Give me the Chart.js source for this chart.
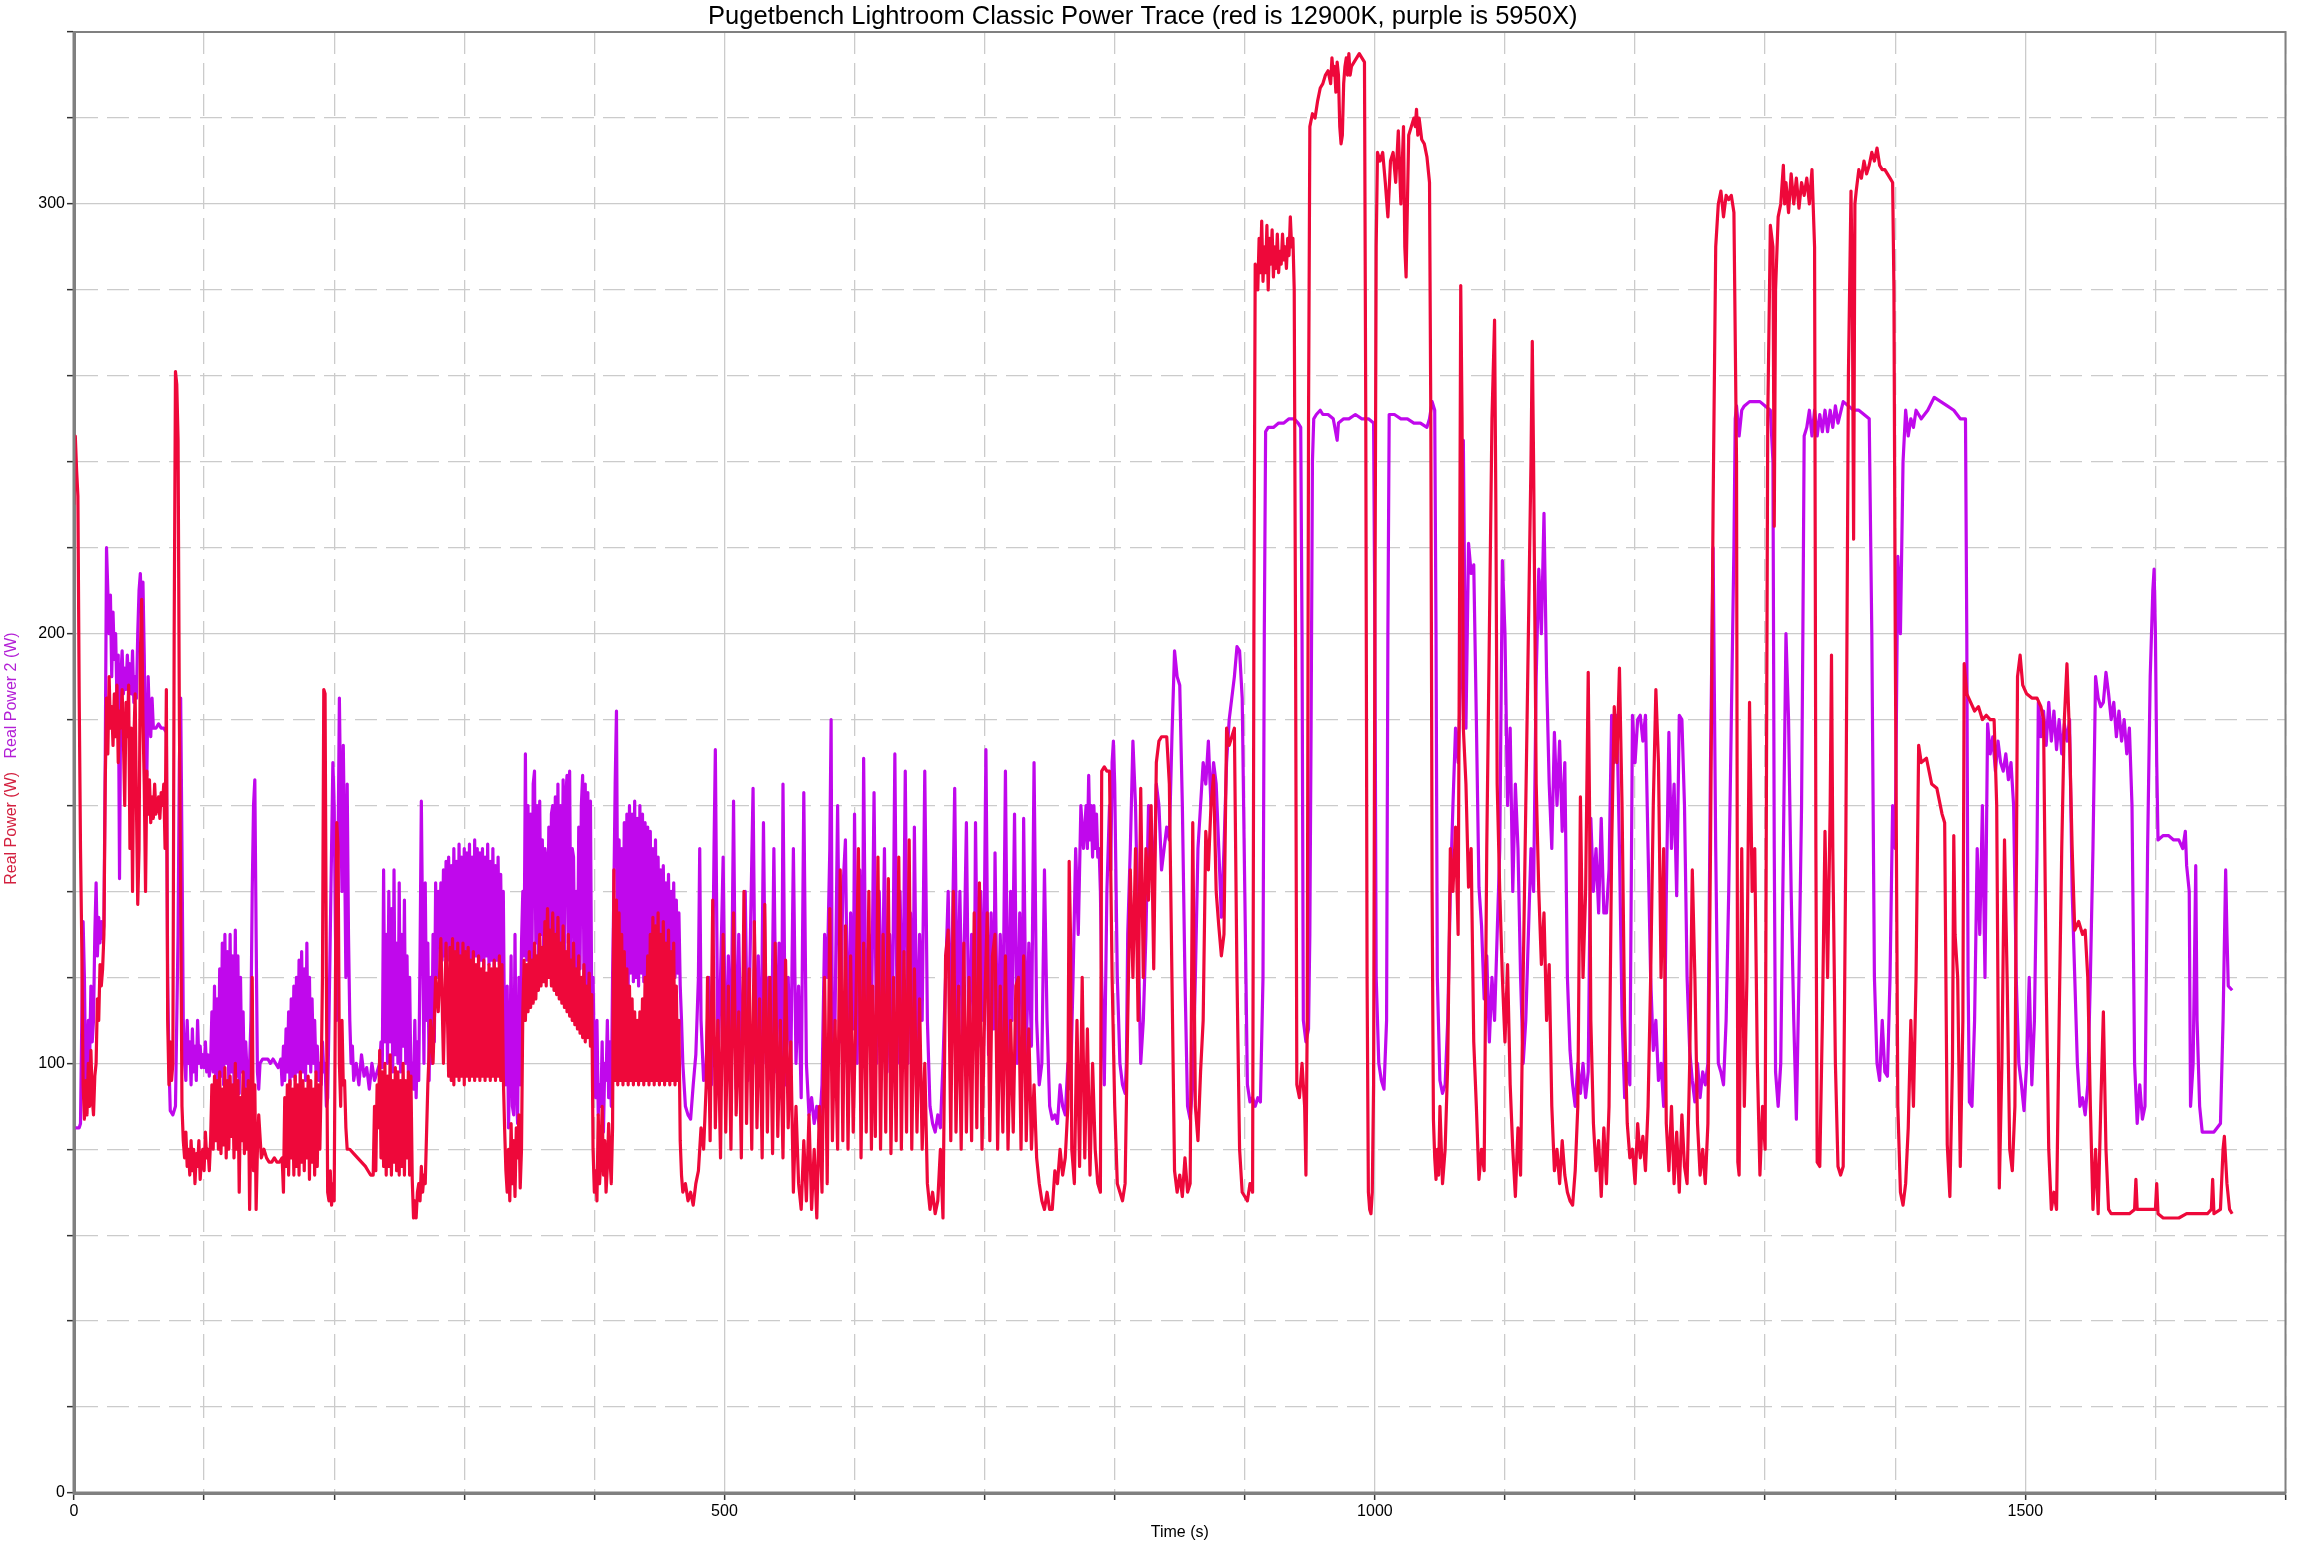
<!DOCTYPE html>
<html>
<head>
<meta charset="utf-8">
<title>Pugetbench Lightroom Classic Power Trace</title>
<script src="https://cdn.jsdelivr.net/npm/chart.js@4.4.1/dist/chart.umd.min.js"></script>
<style>
    html, body { margin: 0; padding: 0; background: #fff; overflow: hidden; }
    #wrap { position: relative; width: 2309px; height: 1542px; }
</style>
</head>
<body>
<div id="wrap"><canvas id="power-chart"></canvas></div>
<script>
const chartTitle = 'Pugetbench Lightroom Classic Power Trace (red is 12900K, purple is 5950X)';
const xAxisTitle = 'Time (s)';
const redLabel = 'Real Power (W)';
const purpleLabel = 'Real Power 2 (W)';

const xMajorTicks = [0, 500, 1000, 1500];
const yMajorTicks = [0, 100, 200, 300];

// [time (s), watts] - 12900K
const redTrace = [
    [0,230],[1,246],[2,238],[3,232],[4,185],[5,150],[6,127],[7,95],[8,87],[9,96],[10,88],[11,100],[12,90],[13,103],[14,92],[15,88],[16,97],[17,100],[18,115],[19,110],[20,123],[21,118],[22,122],[23,130],[24,165],[25,185],[26,172],[27,190],[28,178],[29,183],[30,174],[31,186],[32,176],[33,188],[34,170],[35,182],[36,178],[37,187],[38,175],[39,160],[40,184],[41,176],[42,188],[43,150],[44,178],[45,140],[46,175],[47,186],[48,160],[49,137],[50,150],[51,195],[52,208],[53,180],[54,165],[55,140],[56,168],[57,158],[58,166],[59,156],[60,162],[61,157],[62,165],[63,158],[64,160],[65,162],[66,157],[67,163],[68,160],[69,165],[70,150],[71,187],[72,110],[73,95],[74,105],[75,96],[76,100],[77,200],[78,261],[79,258],[80,245],[81,180],[82,140],[83,90],[84,82],[85,78],[86,84],[87,76],[88,80],[89,74],[90,82],[91,75],[92,80],[93,72],[94,79],[95,76],[96,82],[97,73],[98,78],[99,80],[100,75],
    [101,84],[102,78],[103,80],[104,75],[105,82],[106,95],[107,80],[108,97],[109,82],[110,96],[111,80],[112,98],[113,79],[114,94],[115,81],[116,99],[117,78],[118,96],[119,80],[120,97],[121,83],[122,95],[123,78],[124,100],[125,80],[126,96],[127,70],[128,92],[129,82],[130,98],[131,79],[132,94],[133,80],[134,96],[135,66],[136,85],[137,120],[138,75],[139,95],[140,66],[141,80],[142,88],[144,78],[146,80],[148,78],[150,77],[152,77],[154,78],[156,77],[158,77],[160,78],[161,70],[162,92],[163,76],[164,95],[165,74],[166,96],[167,78],[168,94],[169,74],[170,97],[171,76],[172,95],[173,74],[174,98],[175,77],[176,96],[177,75],[178,94],[179,78],[180,97],[181,73],[182,96],[183,77],[184,94],[185,74],[186,98],[187,76],[188,95],[189,80],[190,96],[191,120],[192,187],[193,186],[194,120],[195,70],[196,68],[197,75],[198,67],[199,72],[200,68],[201,120],[202,156],[203,150],[204,100],[205,90],[206,110],[207,95],[208,96],[209,85],[210,80],[212,80],[215,79],[218,78],[221,77],[224,76],[226,75],[228,74],[230,74],[231,90],[232,75],[233,95],[234,85],[235,103],[236,78],[237,98],[238,76],[239,100],[240,74],[241,97],[242,76],[243,102],[244,74],[245,96],[246,77],[247,99],[248,75],[249,98],[250,74],[251,96],[252,76],[253,100],[254,74],[255,96],[256,78],[257,98],[258,74],[259,97],[260,73],[261,64],[262,68],[263,64],[264,70],[265,72],[266,68],[267,76],[268,70],[269,74],[270,72],[272,95],[274,110],[276,100],[278,120],[280,112],[282,129],[284,100],[286,128],
    [288,97],[289,127],[290,96],[291,129],[292,95],[293,126],[294,97],[295,128],[296,96],[297,125],[298,97],[299,128],[300,95],[301,126],[302,97],[303,127],[304,96],[305,124],[306,97],[307,126],[308,96],[309,123],[310,97],[311,125],[312,96],[313,122],[314,97],[315,124],[316,96],[317,121],[318,97],[319,123],[320,96],[321,122],[322,97],[323,124],[324,96],[325,122],[326,97],[327,125],[328,96],[329,123],[330,97],[331,85],[332,75],[333,70],[334,80],[335,68],[336,86],[337,72],[338,82],[339,69],[340,85],[341,78],[342,88],[343,71],[344,80],
    [345,112],[346,124],[347,110],[348,123],[349,112],[350,126],[351,113],[352,124],[353,114],[354,128],[355,115],[356,125],[357,117],[358,130],[359,118],[360,127],[361,119],[362,133],[363,118],[364,136],[365,120],[366,131],[367,118],[368,135],[369,117],[370,130],[371,116],[372,134],[373,115],[374,128],[375,114],[376,132],[377,113],[378,126],[379,112],[380,130],[381,111],[382,124],[383,110],[384,128],[385,109],[386,122],[387,108],[388,125],[389,107],[390,120],[391,106],[392,123],[393,105],[394,118],[395,106],[396,121],[397,104],[398,116],[399,80],[400,70],[401,75],[402,68],[403,88],[404,72],[405,78],[406,90],[407,74],[408,82],[409,70],[410,76],[411,86],[412,78],[413,72],[414,85],[415,145],
    [416,96],[417,138],[418,95],[419,135],[420,96],[421,130],[422,95],[423,126],[424,96],[425,122],[426,95],[427,118],[428,96],[429,115],[430,95],[431,112],[432,96],[433,110],[434,95],[435,112],[436,96],[437,115],[438,95],[439,120],[440,96],[441,125],[442,95],[443,130],[444,96],[445,134],[446,95],[447,132],[448,96],[449,135],[450,95],[451,130],[452,96],[453,133],[454,95],[455,128],[456,96],[457,131],[458,95],[459,126],[460,96],[461,128],[462,95],[463,118],[464,96],[465,110],[466,82],[467,74],[468,70],[470,72],[472,68],[474,70],[476,67],[478,72],[480,75],[482,85],[484,80],[486,95],
    [487,120],[489,82],[491,138],[493,85],[495,110],[497,78],[499,130],[501,84],[503,118],[505,80],[507,135],[509,88],[511,112],[513,78],[515,140],[517,86],[519,122],[521,80],[523,133],[525,85],[527,115],[529,78],[531,137],[533,84],[535,120],[537,79],[539,128],[541,83],[543,110],[545,78],[547,124],[549,85],[551,105],[553,70],[555,90],[557,72],[559,66],[561,82],[563,68],[565,88],[567,66],[569,80],[571,64],[573,90],
    [575,70],[577,120],[579,72],[581,136],[583,82],[585,110],[587,80],[589,145],[591,82],[593,132],[595,80],[597,125],[599,84],[601,112],[603,150],[605,78],[607,128],[609,84],[611,140],[613,80],[614,118],[616,83],[618,148],[620,80],[622,130],[624,84],[626,143],[628,79],[630,120],[632,82],[634,148],[636,80],[638,126],[640,84],[642,152],[644,80],[646,122],[648,84],[650,115],[652,80],[654,100],[656,72],[658,66],[660,70],[662,65],[664,68],[666,80],[668,64],
    [670,125],[672,131],[674,82],[676,140],[678,84],[680,118],[682,80],[684,128],[686,84],[688,120],[690,82],[692,135],[694,85],[696,142],[698,80],[700,112],[702,135],[704,82],[706,125],[708,130],[710,80],[712,118],[714,84],[716,125],[718,80],[720,110],[722,84],[724,118],[726,120],[728,80],[730,125],[732,82],[734,108],[736,80],[738,95],[740,78],[742,72],[744,68],[746,66],[748,70],[750,66],[752,66],[754,75],[756,72],[758,80],[760,74],[762,78],[764,90],[765,147],[766,130],[767,80],[769,72],[771,110],[773,76],[775,120],[777,78],[779,108],[781,74],[783,100],[785,80],[787,72],[789,70],[790,168],[792,169],[794,168],[796,168],[798,120],[800,90],[802,72],[804,70],[806,68],[808,72],[810,110],[812,145],[814,120],[816,150],[818,110],[820,164],[822,120],[824,150],[826,138],[828,160],[830,122],[832,170],[834,175],[836,176],[838,176],[840,176],[842,165],[844,120],[846,75],[848,70],[850,74],[852,69],[854,78],[856,70],[858,72],[860,156],[862,90],[864,82],[866,98],[868,110],[870,154],[872,145],[874,160],[876,167],[878,140],[880,132],[882,125],[884,130],[886,178],[888,174],[890,176],[892,178],[894,120],[896,80],[898,70],[900,69],[902,68],[904,72],[906,70],[907,200],[908,286],
    [910,280],[911,292],[912,284],[913,296],[914,282],[915,290],[916,284],[917,295],[918,280],[919,292],[920,286],[921,294],[922,283],[923,290],[924,285],[925,293],[926,284],[927,289],[928,286],[929,293],[930,287],[931,290],[932,285],[933,292],[934,288],[935,297],[936,290],[937,292],[938,280],[939,200],[940,95],[942,92],[944,100],[946,90],[947,74],[948,110],[949,250],[950,318],[952,321],[954,320],[956,324],[958,327],[960,328],[962,330],[964,331],[966,328],[967,334],[968,330],[969,332],[970,326],[971,333],[972,330],[973,318],[974,314],[975,316],[976,328],[977,332],[978,334],[979,330],[980,335],[981,330],[982,332],[984,333],[986,334],[988,335],[990,334],[992,333],[993,250],[994,120],[995,70],[996,66],[997,65],[998,70],[999,95],[1000,200],[1001,290],[1002,312],[1004,310],[1006,312],[1008,305],[1010,297],[1012,310],[1014,312],[1016,305],[1018,317],[1020,300],[1022,318],[1023,290],[1024,283],[1025,300],[1026,316],[1028,318],[1030,320],[1031,318],[1032,322],[1033,316],[1034,320],[1036,315],[1038,314],[1040,311],[1042,305],[1043,250],[1044,140],[1045,87],[1046,78],[1047,73],[1048,80],[1049,74],[1050,90],
    [1052,72],[1054,80],[1056,100],[1058,150],[1060,140],[1062,155],[1064,130],[1065,200],[1066,281],[1067,250],[1068,178],[1070,165],[1072,141],[1074,150],[1076,105],[1078,90],[1080,73],[1082,80],[1084,75],[1086,150],[1088,200],[1090,250],[1092,273],[1093,230],[1094,165],[1096,140],[1098,120],[1100,105],[1102,123],[1104,95],[1106,80],[1108,69],[1110,85],[1112,74],[1114,120],[1116,160],[1118,200],[1120,240],[1121,268],[1122,240],[1124,165],[1126,140],[1128,123],[1130,135],[1132,110],[1134,123],
    [1136,90],[1138,75],[1140,80],[1142,72],[1144,82],[1146,74],[1148,70],[1150,68],[1152,67],[1154,75],[1156,90],[1158,162],[1160,120],[1162,140],[1164,191],[1165,160],[1166,110],[1168,86],[1170,75],[1172,82],[1174,69],[1176,85],[1178,72],[1180,90],[1182,150],[1184,183],[1186,170],[1188,192],[1190,160],[1192,110],[1194,86],[1196,78],[1198,80],[1200,72],[1202,86],[1204,78],[1206,83],[1208,75],[1210,90],[1212,120],[1214,160],[1216,187],[1218,170],[1220,120],[1222,150],[1224,86],[1226,75],[1228,90],[1230,72],[1232,84],[1234,70],[1236,88],[1238,76],[1240,72],[1242,100],[1244,145],[1246,120],[1248,86],[1250,74],[1252,80],[1254,72],[1256,86],[1258,150],[1260,230],[1262,290],[1264,300],[1266,303],[1268,297],[1270,302],[1272,301],[1274,302],[1276,298],[1278,240],[1279,77],[1280,74],[1282,150],[1284,90],[1286,120],[1288,184],[1290,140],[1292,150],[1294,100],[1296,74],[1298,90],[1300,80],[1302,250],[1304,295],[1306,290],[1307,225],[1308,280],[1310,297],[1312,300],[1314,309],[1315,300],[1316,305],[1318,298],[1320,307],[1322,300],[1324,306],[1326,299],[1328,305],[1330,302],[1332,306],[1334,300],[1336,308],[1338,290],[1339,150],[1340,77],[1342,76],[1344,110],[1346,154],[1348,120],[1350,160],[1351,195],[1352,150],[1354,100],[1356,76],[1358,74],[1360,76],[1362,150],[1364,260],[1366,303],[1367,280],[1368,222],[1369,300],[1370,303],[1372,308],[1374,306],[1376,310],[1378,307],[1380,309],[1382,312],[1384,310],[1386,313],[1388,309],[1390,308],[1392,308],[1394,307],[1396,306],[1398,305],[1399,280],[1400,200],[1402,90],[1404,70],[1406,67],[1408,72],[1410,85],[1412,110],[1414,90],[1416,120],[1418,174],[1420,170],[1424,171],[1428,165],[1432,164],[1436,158],[1438,156],[1440,81],[1442,69],[1444,100],[1445,153],[1446,130],[1448,120],[1450,76],[1452,110],[1453,193],[1455,186],[1458,184],[1461,182],[1464,183],[1467,180],[1470,181],[1473,180],[1476,180],[1478,160],[1480,71],[1482,100],[1484,152],[1486,120],[1488,80],[1490,75],[1492,90],[1494,190],[1496,195],[1498,188],[1501,186],[1505,185],[1509,185],[1512,183],[1514,180],[1516,120],[1518,80],[1520,66],[1522,70],[1524,66],[1526,110],[1528,150],[1530,180],[1532,193],[1534,176],[1536,150],[1538,131],[1541,133],[1544,130],[1546,131],[1548,120],[1550,90],[1552,66],[1554,80],[1556,65],[1558,90],[1560,112],[1562,80],[1564,66],[1566,65],[1570,65],[1575,65],[1580,65],[1584,66],[1585,73],[1586,66],[1590,66],[1595,66],[1600,66],[1601,72],[1602,65],[1606,64],[1612,64],[1618,64],[1624,65],[1630,65],[1636,65],[1640,65],[1643,66],[1644,73],[1645,65],[1650,66],[1652,80],[1653,83],[1655,72],[1657,66],[1659,65]
];

// [time (s), watts] - 5950X
const purpleTrace = [
    [0,85],[2,85],[4,85],[5,86],[6,110],[7,133],[8,120],[9,95],[10,100],[11,110],[12,100],[13,118],[14,105],[15,110],[16,130],[17,142],[18,125],[19,134],[20,128],[21,133],[22,129],[23,132],[24,170],[25,220],[26,210],[27,200],[28,209],[29,190],[30,205],[31,194],[32,200],[33,185],[34,195],[35,143],[36,190],[37,196],[38,186],[39,192],[40,187],[41,195],[42,188],[43,193],[44,186],[45,196],[46,184],[47,190],[48,185],[49,200],[50,210],[51,214],[52,205],[53,212],[54,195],[55,170],[56,167],[57,190],[58,180],[59,176],[60,185],[61,178],[63,178],[65,179],[67,178],[69,178],[71,177],[72,120],[73,100],[74,89],[76,88],[78,90],[80,130],[81,170],[82,185],[83,150],[84,110],[85,100],[86,96],[87,110],[88,100],[89,105],[90,95],[91,108],[92,98],[93,104],[94,96],[95,110],[96,100],[97,104],[98,99],[99,102],[100,99],
    [101,105],[102,98],[103,102],[104,97],[105,100],[106,112],[107,98],[108,118],[109,96],[110,115],[111,95],[112,122],[113,97],[114,128],[115,95],[116,130],[117,100],[118,126],[119,94],[120,130],[121,98],[122,125],[123,95],[124,131],[125,97],[126,125],[127,93],[128,120],[129,98],[130,112],[131,94],[132,105],[133,98],[134,92],[135,100],[136,110],[137,140],[138,160],[139,166],[140,130],[141,98],[142,94],[143,100],[145,101],[147,101],[149,101],[151,100],[153,101],[155,100],[157,99],[159,101],[160,95],[161,104],[162,96],[163,108],[164,98],[165,112],[166,95],[167,115],[168,97],[169,118],[170,96],[171,120],[172,98],[173,124],[174,95],[175,126],[176,98],[177,122],[178,96],[179,128],[180,100],[181,120],[182,98],[183,115],[184,100],[185,110],[186,98],[187,104],[188,96],[189,100],[190,95],[191,105],[192,98],[193,100],[194,90],[195,92],[196,110],[197,130],[198,150],[199,170],[200,160],[201,130],[202,110],[203,150],[204,185],[205,160],[206,140],[207,174],[208,150],[209,120],[210,165],[211,130],[212,110],[213,100],[214,104],[215,96],[217,100],[219,95],[221,102],[223,97],[225,99],[227,94],[229,100],[231,96],[233,98],[235,100],[236,105],[237,99],[238,145],[239,105],[240,130],[241,100],[242,140],[243,105],[244,136],[245,98],[246,145],[247,102],[248,128],[249,100],[250,142],[251,98],[252,130],[253,104],[254,138],[255,100],[256,125],[257,98],[258,120],[259,96],[260,100],[261,94],[262,110],[263,92],[264,105],[265,96],[266,125],[267,161],[268,130],[269,100],[270,142],[271,110],[272,128],[273,96],[274,120],[275,100],[276,130],[277,105],[278,142],[279,120],[280,140],[281,128],[282,142],[283,124],[284,145],[285,125],[286,147],[287,124],[288,148],
    [289,124],[290,146],[291,122],[292,150],[293,125],[294,147],[295,121],[296,151],[297,124],[298,148],[299,122],[300,150],[301,125],[302,149],[303,123],[304,151],[305,124],[306,148],[307,122],[308,152],[309,125],[310,150],[311,123],[312,149],[313,124],[314,150],[315,122],[316,148],[317,125],[318,151],[319,123],[320,147],[321,124],[322,150],[323,122],[324,146],[325,124],[326,148],[327,123],[328,144],[329,120],[330,140],[331,105],[332,95],[333,118],[334,85],[335,100],[336,125],[337,90],[338,88],[339,130],[340,95],[341,86],[342,120],[343,95],[344,128],[345,140],
    [346,125],[347,172],[348,124],[349,160],[350,126],[351,158],[352,122],[353,165],[354,168],[355,128],[356,160],[357,124],[358,161],[359,130],[360,152],[361,126],[362,150],[363,147],[364,128],[365,155],[366,125],[367,158],[368,160],[369,128],[370,162],[371,126],[372,165],[373,124],[374,160],[375,127],[376,166],[377,125],[378,162],[379,167],[380,128],[381,168],[382,124],[383,150],[384,148],[385,120],[386,140],[387,118],[388,155],[389,122],[390,160],[391,167],[392,120],[393,165],[394,118],[395,163],[396,115],[397,161],[398,112],[399,120],[400,100],[401,92],[402,110],[403,88],[404,95],[405,90],[406,105],[407,84],[408,100],[409,96],[410,110],[411,92],[412,105],[413,90],[414,120],[415,140],[416,165],[417,182],
    [418,130],[419,152],[420,120],[421,150],[422,118],[423,156],[424,120],[425,158],[426,118],[427,160],[428,121],[429,158],[430,119],[431,161],[432,120],[433,157],[434,118],[435,160],[436,121],[437,158],[438,119],[439,156],[440,120],[441,155],[442,118],[443,154],[444,120],[445,150],[446,121],[447,152],[448,118],[449,148],[450,120],[451,145],[452,118],[453,146],[454,121],[455,142],[456,119],[457,144],[458,120],[459,140],[460,118],[461,142],[462,120],[463,138],[464,121],[465,135],[466,118],[467,110],[468,100],[469,95],[470,90],[472,88],[474,87],[476,95],[478,102],[480,120],[481,150],[482,110],[484,96],[486,100],
    [488,120],[490,95],[492,150],[493,173],[495,100],[497,120],[499,148],[501,95],[503,125],[505,100],[507,161],[509,94],[511,130],[513,98],[515,125],[516,140],[518,96],[520,130],[522,164],[524,100],[526,125],[528,95],[530,156],[532,100],[534,120],[536,96],[538,150],[540,98],[542,128],[544,100],[545,165],[547,95],[549,120],[551,98],[553,150],[555,100],[557,118],[559,92],[561,163],[563,100],[565,88],[567,92],[569,86],[571,90],[573,85],[575,95],[577,130],[579,120],[581,150],[582,180],[583,100],
    [585,110],[587,160],[589,105],[591,140],[593,152],[595,100],[597,135],[599,108],[600,158],[602,100],[604,145],[606,110],[607,171],[609,102],[611,130],[613,108],[615,163],[617,100],[619,140],[621,106],[623,150],[625,98],[627,130],[629,105],[631,172],[633,100],[635,140],[637,104],[639,168],[641,100],[643,135],[645,106],[646,155],[648,100],[650,130],[652,110],[654,168],[656,110],[658,90],[660,86],[662,84],[664,88],[666,85],[668,100],
    [670,120],[672,140],[674,105],[677,164],[679,108],[681,140],[683,104],[686,156],[688,100],[690,130],[692,108],[693,156],[695,104],[697,140],[699,110],[701,173],[703,102],[705,135],[707,108],[708,149],[710,100],[712,130],[714,106],[716,168],[718,102],[720,140],[721,110],[723,158],[725,100],[727,135],[729,106],[730,157],[732,102],[734,128],[736,104],[738,170],[740,110],[742,95],[744,100],[746,145],[748,110],[750,90],[752,87],[754,88],[756,86],[758,95],[760,90],[762,88],[764,100],[766,94],[768,120],[770,150],[772,130],[774,160],[776,150],[777,155],[778,160],[779,150],[780,167],[781,152],[782,160],[783,148],[784,160],[785,150],[786,158],[787,148],[788,150],[789,140],[790,120],[792,95],[794,140],[796,160],[797,145],[798,170],[799,175],[800,165],[802,120],[804,100],[806,95],[808,93],[809,100],[810,130],[812,150],[814,175],[816,160],[818,130],[820,100],[822,110],[824,130],[826,160],[828,155],[830,140],[832,165],[834,160],[836,145],[838,150],[840,155],[842,152],[844,176],[846,196],[848,190],[850,188],[852,160],[854,120],[856,90],[858,87],[860,95],[862,120],[864,150],[866,160],[868,170],[870,165],[872,175],[874,160],[876,170],[878,165],[880,150],[882,134],[884,150],[886,170],[888,180],[890,185],[892,190],[894,197],[896,196],[898,185],[900,140],[902,95],[904,91],[906,92],[908,90],[910,92],[912,91],[914,120],[915,200],[916,247],[918,248],[922,248],[926,249],[930,249],[934,250],[938,250],[941,249],[943,248],[944,200],[945,110],[947,105],[949,108],[950,130],[951,180],[952,240],[953,250],[955,251],[958,252],[960,251],[964,251],[968,250],[971,245],[972,249],[976,250],[980,250],[985,251],[990,250],[995,250],[999,249],[1000,200],[1001,120],[1003,100],[1005,96],[1007,94],[1009,110],[1010,200],[1011,251],[1015,251],[1020,250],[1025,250],[1030,249],[1035,249],[1040,248],[1042,250],[1044,254],[1046,252],[1047,200],[1048,120],[1050,96],[1052,93],[1054,95],[1056,110],[1058,140],[1060,160],[1062,178],[1064,170],[1066,190],[1068,245],[1069,210],[1070,178],[1072,221],[1074,214],[1076,216],[1078,180],[1080,141],[1082,132],[1084,115],[1086,125],[1088,105],[1090,120],[1092,110],[1094,130],[1096,150],[1098,217],[1100,200],[1102,160],[1104,178],[1106,140],[1108,165],[1110,150],[1112,120],[1114,100],[1116,110],[1118,130],[1120,150],[1122,140],[1124,190],[1126,215],[1128,200],[1130,228],[1132,190],[1134,165],[1136,150],[1138,177],[1140,160],[1142,175],[1144,154],[1146,170],[1148,120],[1150,103],[1152,95],[1154,90],[1156,100],[1158,93],[1160,100],[1162,92],[1164,98],[1166,157],[1168,140],[1170,150],[1172,135],[1174,157],[1176,135],[1178,135],[1180,145],[1182,181],[1184,170],[1186,181],[1188,150],[1190,111],[1192,92],[1194,100],[1196,95],[1198,181],[1200,170],[1202,180],[1204,181],[1206,175],[1208,181],[1210,150],[1212,120],[1214,103],[1216,110],[1218,96],[1220,100],[1222,90],[1224,139],[1226,177],[1228,150],[1230,165],[1232,139],[1234,181],[1236,180],[1238,160],[1240,120],[1242,103],[1244,96],[1246,91],[1248,100],[1250,92],[1252,98],[1254,95],[1256,100],[1258,170],[1260,220],[1262,150],[1264,100],[1266,98],[1268,95],[1270,110],[1272,140],[1274,180],[1276,220],[1277,250],[1278,253],[1280,246],[1282,252],[1284,253],[1288,254],[1292,254],[1296,254],[1300,253],[1304,252],[1306,240],[1307,150],[1308,98],[1310,90],[1312,100],[1314,150],[1316,200],[1318,180],[1320,140],[1322,110],[1324,87],[1326,120],[1328,160],[1329,200],[1330,246],[1332,248],[1334,252],[1336,246],[1338,252],[1340,246],[1342,251],[1344,247],[1346,252],[1348,247],[1350,252],[1352,248],[1354,253],[1356,249],[1360,254],[1364,253],[1368,252],[1372,252],[1376,251],[1380,250],[1382,200],[1384,120],[1386,100],[1388,96],[1390,110],[1392,98],[1394,97],[1396,120],[1398,160],[1400,150],[1402,218],[1404,200],[1406,240],[1408,252],[1410,246],[1412,250],[1414,248],[1416,252],[1420,250],[1425,252],[1430,255],[1435,254],[1440,253],[1445,252],[1450,250],[1454,250],[1455,200],[1456,120],[1457,91],[1459,90],[1461,110],[1463,150],[1465,130],[1467,160],[1469,120],[1471,179],[1473,172],[1475,176],[1477,168],[1479,175],[1481,170],[1483,168],[1485,172],[1487,166],[1489,170],[1491,160],[1493,120],[1495,100],[1497,95],[1499,89],[1501,100],[1503,120],[1505,95],[1507,110],[1509,150],[1510,184],[1512,176],[1514,182],[1516,174],[1518,184],[1520,175],[1522,182],[1524,173],[1526,180],[1528,172],[1530,179],[1532,175],[1534,180],[1536,140],[1538,120],[1540,100],[1542,90],[1544,92],[1546,88],[1548,95],[1550,120],[1552,150],[1554,190],[1556,185],[1558,183],[1560,184],[1562,191],[1564,186],[1566,180],[1568,184],[1570,176],[1572,182],[1574,175],[1576,180],[1578,172],[1580,178],[1582,160],[1584,100],[1586,86],[1588,95],[1590,87],[1592,90],[1594,150],[1596,190],[1598,210],[1599,215],[1600,200],[1601,170],[1602,152],[1606,153],[1610,153],[1614,152],[1618,152],[1621,150],[1623,154],[1624,146],[1626,140],[1627,90],[1629,100],[1631,146],[1632,110],[1634,90],[1636,84],[1640,84],[1645,84],[1650,86],[1652,110],[1654,145],[1655,130],[1656,118],[1659,117]
];

const redColor = 'rgb(238, 8, 58)';
const purpleColor = 'rgb(192, 8, 236)';
const redTextColor = '#d3203f';
const purpleTextColor = '#b31fd6';
const gridColor = '#cbcbcb';
const axisColor = '#808080';
const fontFamily = "'Liberation Sans', Arial, sans-serif";

function toPoints(trace) {
    return trace.map(p => ({ x: p[0], y: p[1] }));
}

function gridDash(ctx, majors) {
    if (!ctx.tick) return [];
    return majors.includes(ctx.tick.value) ? [] : [22, 9];
}

// two coloured y-axis label, rotated like the original
const yLabelPlugin = {
    id: 'yLabel',
    afterDraw(chart) {
        const { ctx, chartArea } = chart;
        const gap = '   ';
        ctx.save();
        ctx.font = '16px ' + fontFamily;
        const w1 = ctx.measureText(redLabel + gap).width;
        const w2 = ctx.measureText(purpleLabel).width;
        const cy = (chartArea.top + chartArea.bottom) / 2 - 4;
        ctx.translate(12, cy);
        ctx.rotate(-Math.PI / 2);
        ctx.textBaseline = 'middle';
        ctx.textAlign = 'left';
        let x = -(w1 + w2) / 2;
        ctx.fillStyle = redTextColor;
        ctx.fillText(redLabel, x, 0);
        ctx.fillStyle = purpleTextColor;
        ctx.fillText(purpleLabel, x + w1, 0);
        ctx.restore();
    }
};

const framePlugin = {
    id: 'frame',
    afterDatasetsDraw(chart) {
        const { ctx, chartArea } = chart;
        ctx.save();
        ctx.strokeStyle = axisColor;
        ctx.lineWidth = 2;
        ctx.beginPath();
        ctx.moveTo(chartArea.left, chartArea.top);
        ctx.lineTo(chartArea.right, chartArea.top);
        ctx.lineTo(chartArea.right, chartArea.bottom);
        ctx.stroke();
        ctx.lineWidth = 3;
        ctx.beginPath();
        ctx.moveTo(chartArea.left, chartArea.top);
        ctx.lineTo(chartArea.left, chartArea.bottom);
        ctx.lineTo(chartArea.right, chartArea.bottom);
        ctx.stroke();
        ctx.restore();
    }
};

document.addEventListener('DOMContentLoaded', () => {
    const canvas = document.getElementById('power-chart');

    new Chart(canvas, {
        type: 'line',
        data: {
            datasets: [{
                label: redLabel,
                data: toPoints(redTrace),
                borderColor: redColor,
                borderWidth: 3.2,
                borderJoinStyle: 'round',
                pointRadius: 0,
                fill: false,
                tension: 0
            }, {
                label: purpleLabel,
                data: toPoints(purpleTrace),
                borderColor: purpleColor,
                borderWidth: 3.2,
                borderJoinStyle: 'round',
                pointRadius: 0,
                fill: false,
                tension: 0
            }]
        },
        options: {
            responsive: true,
            maintainAspectRatio: false,
            animation: false,
            events: [],
            layout: {
                padding: { top: 0, right: 23.5, bottom: 0, left: 0 }
            },
            plugins: {
                legend: { display: false },
                tooltip: { enabled: false },
                title: {
                    display: true,
                    text: chartTitle,
                    color: '#000',
                    font: { family: fontFamily, size: 25.5, weight: 'normal', lineHeight: 1.2 },
                    padding: { top: 1.5, bottom: 0 }
                }
            },
            scales: {
                x: {
                    type: 'linear',
                    min: 0,
                    max: 1700,
                    afterFit: scale => { scale.height = 49; },
                    ticks: {
                        stepSize: 100,
                        maxTicksLimit: 100,
                        autoSkip: false,
                        maxRotation: 0,
                        padding: 2,
                        color: '#000',
                        font: { family: fontFamily, size: 16 },
                        callback: v => xMajorTicks.includes(v) ? String(v) : ''
                    },
                    grid: {
                        color: gridColor,
                        lineWidth: 1.3,
                        tickLength: 7,
                        tickColor: '#333',
                        tickWidth: 1.5
                    },
                    border: {
                        color: axisColor,
                        width: 3,
                        dash: ctx => gridDash(ctx, xMajorTicks)
                    },
                    title: {
                        display: true,
                        text: xAxisTitle,
                        color: '#000',
                        font: { family: fontFamily, size: 16, lineHeight: 1.2 },
                        padding: { top: 0, bottom: 0 }
                    }
                },
                y: {
                    type: 'linear',
                    min: 0,
                    max: 340,
                    afterFit: scale => { scale.width = 74; },
                    ticks: {
                        stepSize: 20,
                        maxTicksLimit: 100,
                        padding: 2,
                        color: '#000',
                        font: { family: fontFamily, size: 16 },
                        callback: v => yMajorTicks.includes(v) ? String(v) : ''
                    },
                    grid: {
                        color: gridColor,
                        lineWidth: 1.3,
                        tickLength: 7,
                        tickColor: '#333',
                        tickWidth: 1.5
                    },
                    border: {
                        color: axisColor,
                        width: 3,
                        dash: ctx => gridDash(ctx, yMajorTicks)
                    }
                }
            }
        },
        plugins: [yLabelPlugin, framePlugin]
    });
});
</script>
</body>
</html>
